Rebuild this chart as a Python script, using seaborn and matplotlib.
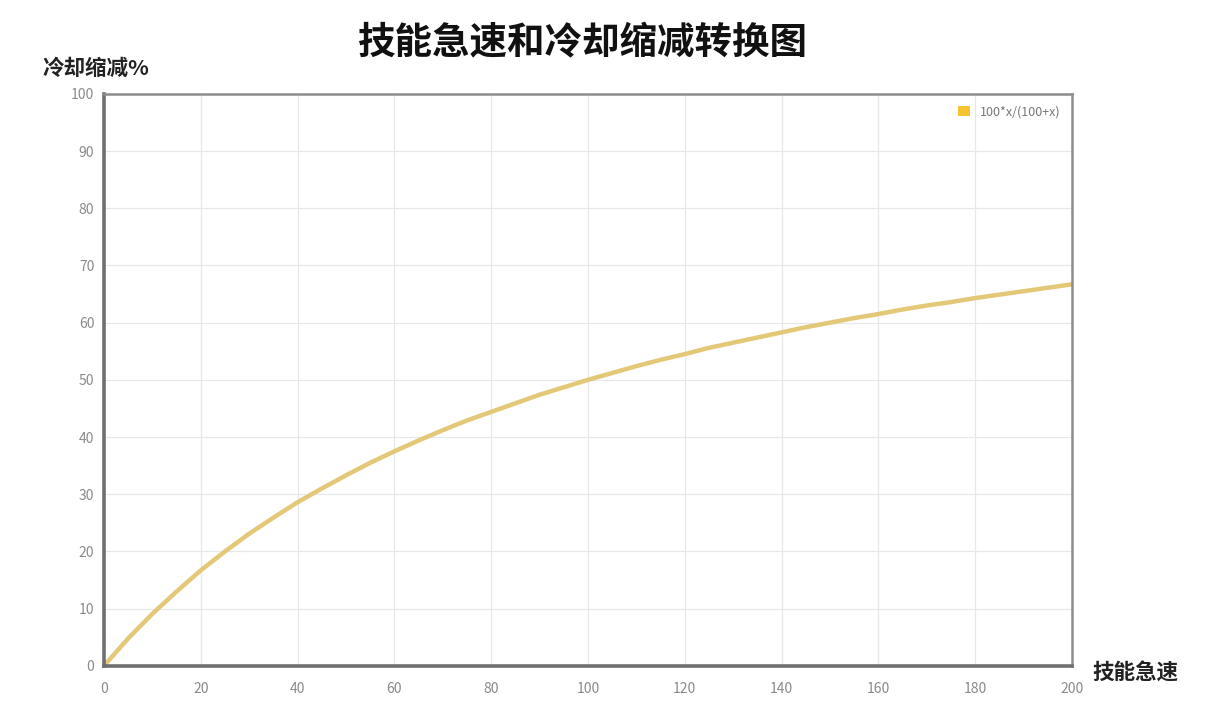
import numpy as np
import pandas as pd
import matplotlib
matplotlib.use("Agg")
import matplotlib.pyplot as plt
from matplotlib.patches import Patch
import seaborn as sns

# values
haste = [0, 5, 10, 15, 20, 25, 30, 35, 40, 45, 50, 55, 60, 65, 70, 75,
         80, 85, 90, 95, 100, 105, 110, 115, 120, 125, 130, 135, 140,
         145, 150, 155, 160, 165, 170, 175, 180, 185, 190, 195, 200]
cdr = [0, 4.8, 9.1, 13.0, 16.7, 20.0, 23.1, 25.9, 28.6, 31.0, 33.3,
       35.5, 37.5, 39.4, 41.2, 42.9, 44.4, 45.9, 47.4, 48.7, 50.0,
       51.2, 52.4, 53.5, 54.5, 55.6, 56.5, 57.4, 58.3, 59.2, 60.0,
       60.8, 61.5, 62.3, 63.0, 63.6, 64.3, 64.9, 65.5, 66.1, 66.7]
x_ticks = [0, 20, 40, 60, 80, 100, 120, 140, 160, 180, 200]
y_ticks = [0, 10, 20, 30, 40, 50, 60, 70, 80, 90, 100]
series_name = "100*x/(100+x)"

df = pd.DataFrame({"haste": haste, "cdr": cdr})

sns.set_style("white")
plt.rcParams['font.family'] = ['Noto Sans CJK SC', 'DejaVu Sans']

fig = plt.figure(figsize=(12.1, 7.06), dpi=100)
ax = fig.add_axes([0.086, 0.057, 0.8, 0.81])

sns.lineplot(data=df, x="haste", y="cdr", ax=ax, color="#e3c878", linewidth=3.2)

ax.set_xlim(0, 200)
ax.set_ylim(0, 100)
ax.set_xticks(x_ticks)
ax.set_yticks(y_ticks)
ax.grid(True, color="#e6e8ec", linewidth=0.9)
ax.tick_params(axis="both", colors="#8a8a8a", labelsize=10, length=0)
ax.tick_params(axis="x", pad=12)
ax.tick_params(axis="y", pad=7)

for side in ["left", "bottom"]:
    ax.spines[side].set_color("#6f6f6f")
    ax.spines[side].set_linewidth(2.6)
for side in ["top", "right"]:
    ax.spines[side].set_color("#8c8c8c")
    ax.spines[side].set_linewidth(1.8)

ax.set_xlabel("")
ax.set_ylabel("")

handle = Patch(facecolor="#f5c232", edgecolor="none")
ax.legend([handle], [series_name], loc="upper right", frameon=False,
          fontsize=9, handlelength=1.0, handleheight=0.8,
          labelcolor="#777777", bbox_to_anchor=(1.0, 1.0))

fig.text(0.482, 0.94, "技能急速和冷却缩减转换图", ha="center", va="center",
         fontsize=27, fontweight="bold", color="#111111")
fig.text(0.035, 0.903, "冷却缩减%", ha="left", va="center",
         fontsize=15.5, fontweight="bold", color="#222222")
fig.text(0.903, 0.046, "技能急速", ha="left", va="center",
         fontsize=15.5, fontweight="bold", color="#222222")

plt.savefig("out.png", dpi=100, facecolor="white")
plt.close()
